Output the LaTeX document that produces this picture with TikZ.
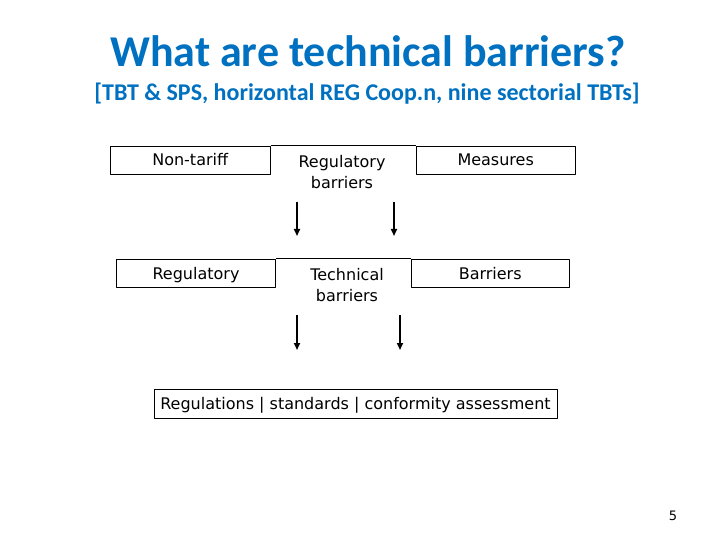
\documentclass[tikz,border=0pt]{standalone}
\usepackage{fontspec}
\setmainfont{DejaVu Sans}
\newfontfamily\titlefont{Carlito}
\usetikzlibrary{arrows.meta}
\definecolor{titleblue}{RGB}{0,112,192}
\begin{document}
\begin{tikzpicture}[x=1pt, y=-1pt, font=\fontsize{16}{21}\selectfont, line join=round, >={Triangle[width=6pt,length=7pt]},
	box/.style={draw, line width=0.8pt, minimum height=28pt, inner sep=0pt, text height=12pt, text depth=0pt},
	midtext/.style={align=center, anchor=north, inner sep=0pt},
	down/.style={->, line width=1.6pt}]
	\useasboundingbox (0,0) rectangle (720,540);
	\node[anchor=base, text=titleblue, font=\titlefont\bfseries\fontsize{44}{48}\selectfont] (title) at (368,67) {What are technical barriers?};
	\node[anchor=base, text=titleblue, font=\titlefont\bfseries\fontsize{24}{28}\selectfont] (subtitle) at (367,101) {[TBT \& SPS, horizontal REG Coop.n, nine sectorial TBTs]};
	% first row
	\node[box, minimum width=160pt] (nontariff) at (190.2,160) {Non-tariff};
	\node[box, minimum width=159pt] (measures) at (495.7,160) {Measures};
	\node[midtext] (regbar) at (342,155) {Regulatory\\barriers};
	\draw[line width=0.8pt] (nontariff.north east) -- (measures.north west);
	\coordinate (r1a) at (297,202); \coordinate (r1ae) at (297,236);
	\coordinate (r1b) at (394,202); \coordinate (r1be) at (394,236);
	\draw[down] (r1a) -- (r1ae);
	\draw[down] (r1b) -- (r1be);
	% second row
	\node[box, minimum width=159pt] (regulatory) at (196,273) {Regulatory};
	\node[box, minimum width=158pt] (barriers) at (490.2,273) {Barriers};
	\node[midtext] (techbar) at (347,268) {Technical\\barriers};
	\draw[line width=0.8pt] (regulatory.north east) -- (barriers.north west);
	\coordinate (r2a) at (297,315); \coordinate (r2ae) at (297,350);
	\coordinate (r2b) at (400,315); \coordinate (r2be) at (400,350);
	\draw[down] (r2a) -- (r2ae);
	\draw[down] (r2b) -- (r2be);
	% bottom
	\node[box, minimum width=403pt, minimum height=29pt] (rsc) at (355.5,403.5) {Regulations | standards | conformity assessment};
	\node[anchor=base, font=\fontsize{13}{15}\selectfont] (pagenum) at (673,520) {5};
\end{tikzpicture}
\end{document}
